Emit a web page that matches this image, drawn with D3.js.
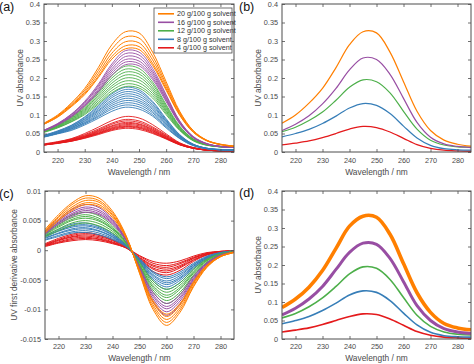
<!DOCTYPE html>
<html>
<head>
<meta charset="utf-8">
<script src="https://cdn.jsdelivr.net/npm/d3@7"></script>
<style>
  html, body { margin: 0; padding: 0; background: #fff; }
  svg { display: block; }
  text { font-family: "Liberation Sans", Arial, sans-serif; }
</style>
</head>
<body>
<svg id="chart" width="474" height="364"></svg>
<script>
// ---------------- data ----------------
const wavelengths = [215, 220, 225, 230, 235, 240, 245, 250, 255, 260, 265, 270, 275, 280, 285];
const xTicks = [220, 230, 240, 250, 260, 270, 280];
const absTicks = [0, 0.05, 0.1, 0.15, 0.2, 0.25, 0.3, 0.35, 0.4];
const absTickLabels = ["0", "0.05", "0.1", "0.15", "0.2", "0.25", "0.3", "0.35", "0.4"];
const derivTicks = [-0.015, -0.01, -0.005, 0, 0.005, 0.01];
const derivTickLabels = ["-0.015", "-0.01", "-0.005", "0", "0.005", "0.01"];

const groupNames = ["20 g/100 g solvent", "16 g/100 g solvent", "12 g/100 g solvent", "8 g/100 g solvent", "4 g/100 g solvent"];
const groupColors = ["#FF7F00", "#984EA3", "#4DAF4A", "#377EB8", "#E41A1C"];

// (a) all replicate spectra
const aOrange = [
  [.078, .100, .132, .172, .228, .290, .325, .322, .270, .190, .110, .058, .032, .021, .016],
  [.077, .098, .129, .167, .220, .278, .311, .308, .259, .183, .107, .057, .031, .021, .016],
  [.076, .097, .126, .162, .212, .267, .298, .295, .249, .177, .104, .055, .031, .020, .016],
  [.075, .095, .124, .158, .205, .258, .287, .285, .240, .171, .101, .054, .031, .020, .015],
  [.075, .094, .122, .155, .201, .251, .279, .277, .234, .167, .099, .053, .030, .020, .015]
];
const aPurple = [
  [.059, .077, .102, .137, .183, .238, .274, .270, .226, .155, .084, .042, .023, .015, .012],
  [.059, .076, .101, .134, .179, .232, .266, .262, .219, .151, .083, .041, .022, .015, .012],
  [.058, .075, .099, .132, .175, .225, .258, .254, .213, .147, .081, .040, .022, .015, .012],
  [.058, .075, .097, .128, .170, .219, .250, .246, .207, .143, .079, .040, .022, .015, .012],
  [.057, .074, .096, .126, .166, .213, .243, .239, .201, .140, .078, .039, .022, .015, .012],
  [.057, .073, .094, .124, .162, .207, .236, .233, .196, .136, .076, .038, .021, .015, .012]
];
const aGreen = [
  [.058, .072, .094, .122, .163, .207, .232, .226, .189, .128, .070, .035, .020, .015, .014],
  [.057, .071, .092, .119, .158, .200, .224, .218, .183, .124, .068, .035, .020, .015, .014],
  [.057, .070, .090, .116, .153, .193, .216, .211, .176, .120, .067, .034, .020, .014, .013],
  [.056, .069, .088, .113, .148, .186, .208, .203, .170, .116, .065, .033, .020, .014, .013],
  [.055, .068, .086, .110, .143, .179, .200, .195, .164, .112, .063, .032, .019, .014, .013],
  [.055, .067, .084, .107, .138, .173, .192, .187, .158, .109, .061, .032, .019, .014, .013],
  [.054, .066, .082, .104, .133, .166, .184, .179, .152, .105, .060, .031, .019, .014, .013],
  [.053, .065, .081, .101, .129, .160, .177, .173, .146, .101, .058, .030, .018, .014, .013]
];
const aBlue = [
  [.045, .057, .072, .095, .125, .157, .175, .168, .137, .090, .047, .021, .010, .007, .006],
  [.045, .056, .071, .093, .121, .152, .169, .163, .133, .087, .046, .021, .010, .007, .005],
  [.044, .055, .069, .090, .117, .147, .163, .157, .128, .084, .044, .020, .010, .006, .005],
  [.043, .054, .068, .088, .113, .141, .157, .151, .124, .082, .043, .020, .010, .006, .005],
  [.043, .053, .066, .085, .110, .136, .151, .145, .119, .079, .042, .020, .010, .006, .005],
  [.042, .052, .065, .083, .106, .131, .145, .139, .115, .076, .041, .019, .009, .006, .005],
  [.042, .051, .063, .080, .102, .126, .139, .134, .110, .074, .040, .019, .009, .006, .005],
  [.041, .050, .062, .078, .098, .121, .133, .128, .106, .071, .038, .018, .009, .006, .005],
  [.041, .050, .060, .076, .095, .116, .127, .122, .101, .068, .037, .018, .009, .006, .005],
  [.040, .049, .058, .073, .091, .110, .121, .116, .097, .065, .036, .017, .009, .006, .005]
];
const aRed = [
  [.022, .028, .036, .050, .067, .085, .096, .092, .074, .049, .025, .012, .006, .003, .002],
  [.021, .027, .035, .047, .062, .078, .088, .084, .068, .046, .024, .012, .006, .003, .002],
  [.020, .026, .034, .045, .059, .075, .084, .080, .065, .044, .023, .011, .005, .003, .002],
  [.020, .026, .033, .043, .057, .071, .080, .076, .062, .042, .022, .011, .005, .003, .002],
  [.020, .025, .032, .042, .055, .069, .077, .074, .060, .041, .021, .011, .005, .003, .002],
  [.019, .025, .031, .041, .053, .066, .074, .071, .058, .039, .021, .010, .005, .003, .002],
  [.019, .024, .030, .040, .051, .064, .071, .068, .056, .038, .020, .010, .005, .003, .002],
  [.019, .024, .030, .039, .050, .062, .069, .066, .054, .037, .020, .010, .005, .003, .002],
  [.019, .024, .029, .038, .049, .060, .067, .064, .052, .036, .020, .010, .005, .003, .002],
  [.019, .023, .029, .037, .047, .058, .064, .061, .050, .035, .019, .010, .005, .003, .002]
];

// (b) mean spectra
const bOrange = [.078, .100, .132, .172, .228, .290, .325, .322, .270, .190, .110, .058, .032, .021, .016];
const bPurple = [.058, .075, .098, .130, .172, .222, .254, .250, .210, .145, .080, .040, .022, .015, .012];
const bGreen  = [.055, .067, .085, .108, .140, .175, .195, .190, .160, .110, .062, .032, .019, .014, .013];
const bBlue   = [.041, .050, .061, .077, .097, .119, .131, .126, .104, .070, .038, .018, .009, .006, .005];
const bRed    = [.019, .024, .030, .039, .050, .062, .069, .066, .054, .037, .020, .010, .005, .003, .002];

// (c) first-derivative spectra
const cOrange = [
  [.0035, .0060, .0080, .0092, .0088, .0066, .0025, -.0039, -.0100, -.0127, -.0105, -.0062, -.0029, -.0011, -.0004],
  [.0033, .0057, .0077, .0088, .0084, .0063, .0024, -.0038, -.0096, -.0122, -.0101, -.0060, -.0028, -.0011, -.0004],
  [.0032, .0055, .0073, .0084, .0081, .0060, .0023, -.0036, -.0092, -.0117, -.0097, -.0057, -.0027, -.0011, -.0004],
  [.0030, .0052, .0070, .0080, .0077, .0058, .0022, -.0035, -.0088, -.0112, -.0093, -.0055, -.0026, -.0010, -.0003],
  [.0029, .0050, .0067, .0077, .0074, .0055, .0021, -.0033, -.0085, -.0108, -.0090, -.0053, -.0025, -.0010, -.0003]
];
const cPurple = [
  [.0032, .0052, .0069, .0077, .0072, .0052, .0019, -.0034, -.0087, -.0110, -.0091, -.0054, -.0025, -.0010, -.0003],
  [.0031, .0050, .0065, .0073, .0068, .0050, .0018, -.0032, -.0082, -.0104, -.0086, -.0051, -.0024, -.0009, -.0003],
  [.0029, .0048, .0062, .0070, .0065, .0048, .0018, -.0031, -.0078, -.0099, -.0082, -.0049, -.0023, -.0009, -.0003],
  [.0028, .0046, .0060, .0067, .0062, .0046, .0017, -.0029, -.0075, -.0095, -.0079, -.0047, -.0022, -.0009, -.0003],
  [.0027, .0044, .0057, .0064, .0060, .0044, .0016, -.0028, -.0071, -.0090, -.0075, -.0044, -.0021, -.0008, -.0003]
];
const cGreen = [
  [.0031, .0046, .0059, .0064, .0058, .0041, .0014, -.0028, -.0071, -.0090, -.0075, -.0044, -.0021, -.0008, -.0003],
  [.0029, .0043, .0055, .0060, .0054, .0038, .0013, -.0026, -.0067, -.0085, -.0071, -.0042, -.0020, -.0008, -.0003],
  [.0027, .0041, .0052, .0057, .0051, .0036, .0013, -.0025, -.0063, -.0080, -.0066, -.0039, -.0018, -.0007, -.0002],
  [.0026, .0039, .0050, .0054, .0049, .0035, .0012, -.0024, -.0060, -.0076, -.0063, -.0037, -.0017, -.0007, -.0002],
  [.0024, .0036, .0046, .0050, .0045, .0032, .0011, -.0022, -.0056, -.0071, -.0059, -.0035, -.0016, -.0006, -.0002],
  [.0022, .0033, .0042, .0046, .0041, .0029, .0010, -.0020, -.0052, -.0066, -.0055, -.0032, -.0015, -.0006, -.0002]
];
const cBlue = [
  [.0025, .0035, .0044, .0046, .0040, .0028, .0009, -.0020, -.0052, -.0066, -.0055, -.0032, -.0015, -.0006, -.0002],
  [.0024, .0033, .0041, .0043, .0038, .0026, .0009, -.0019, -.0049, -.0062, -.0051, -.0030, -.0014, -.0006, -.0002],
  [.0023, .0032, .0039, .0041, .0036, .0025, .0008, -.0018, -.0046, -.0058, -.0048, -.0028, -.0013, -.0005, -.0002],
  [.0021, .0029, .0036, .0038, .0033, .0023, .0008, -.0017, -.0043, -.0055, -.0046, -.0027, -.0013, -.0005, -.0002],
  [.0020, .0028, .0034, .0036, .0032, .0022, .0007, -.0016, -.0041, -.0052, -.0043, -.0025, -.0012, -.0005, -.0002],
  [.0018, .0025, .0031, .0033, .0029, .0020, .0007, -.0015, -.0038, -.0048, -.0040, -.0024, -.0011, -.0004, -.0001],
  [.0017, .0023, .0029, .0030, .0026, .0018, .0006, -.0014, -.0036, -.0045, -.0037, -.0022, -.0010, -.0004, -.0001]
];
const cRed = [
  [.0011, .0020, .0027, .0030, .0026, .0018, .0006, -.0017, -.0036, -.0042, -.0034, -.0019, -.0008, -.0003, -.0001],
  [.0010, .0018, .0025, .0028, .0025, .0017, .0006, -.0015, -.0032, -.0038, -.0030, -.0017, -.0008, -.0003, -.0001],
  [.0009, .0017, .0023, .0026, .0023, .0016, .0005, -.0014, -.0030, -.0035, -.0028, -.0016, -.0007, -.0003, -.0001],
  [.0008, .0016, .0022, .0024, .0021, .0014, .0005, -.0013, -.0027, -.0032, -.0026, -.0014, -.0006, -.0003, -.0001],
  [.0008, .0014, .0020, .0022, .0019, .0013, .0004, -.0012, -.0025, -.0029, -.0023, -.0013, -.0006, -.0002, -.0001],
  [.0007, .0013, .0018, .0020, .0018, .0012, .0004, -.0010, -.0022, -.0026, -.0021, -.0012, -.0005, -.0002, -.0001],
  [.0006, .0012, .0016, .0018, .0016, .0011, .0004, -.0009, -.0019, -.0022, -.0018, -.0010, -.0004, -.0002, -.0001]
];

// (d) predicted / averaged spectra
const dOrange = [.085, .108, .140, .185, .245, .305, .332, .329, .283, .204, .125, .072, .042, .030, .025];
const dPurple = [.065, .083, .108, .142, .188, .234, .259, .256, .218, .155, .090, .050, .028, .019, .015];
const dGreen  = [.057, .069, .087, .111, .142, .176, .195, .191, .161, .112, .064, .034, .019, .013, .011];
const dBlue   = [.041, .050, .061, .077, .097, .119, .130, .126, .104, .070, .038, .018, .009, .006, .005];
const dRed    = [.019, .024, .030, .039, .050, .061, .068, .066, .054, .037, .020, .010, .005, .003, .002];

// ---------------- drawing ----------------
const svg = d3.select("#chart");
const FONT = '"Liberation Sans", Arial, sans-serif';
const axisColor = "#4d4d4d";
const textColor = "#4a4a4a";

function panel(opts) {
  const {x0, x1, y0, y1, yDomain, yTicks, yLabels, yTitle, yTitleX, xTitleDy, xPad, groups, widths, label, labelX, labelY, id} = opts;
  const x = d3.scaleLinear().domain([215, 285]).range([x0, x1]);
  const y = d3.scaleLinear().domain(yDomain).range([y1, y0]);
  const g = svg.append("g");

  g.append("clipPath").attr("id", id).append("rect")
    .attr("x", x0).attr("y", y0).attr("width", x1 - x0).attr("height", y1 - y0);

  const line = d3.line()
    .x((d, i) => x(wavelengths[i]))
    .y(d => y(d))
    .curve(d3.curveCatmullRom.alpha(0.5));

  const lg = g.append("g").attr("clip-path", `url(#${id})`);
  groups.forEach((grp, gi) => {
    lg.selectAll(null).data(grp.series).enter().append("path")
      .attr("d", line)
      .attr("fill", "none")
      .attr("stroke", grp.color)
      .attr("stroke-width", widths[gi])
      .attr("stroke-linejoin", "round");
  });

  // axes with inward ticks
  const styleAxis = sel => {
    sel.selectAll(".domain").remove();
    sel.selectAll(".tick line").attr("stroke", axisColor).attr("stroke-width", 0.8);
    sel.selectAll("text").attr("fill", textColor).style("font-family", FONT).style("font-size", "7.3px");
  };
  g.append("g").attr("transform", `translate(0,${y1})`)
    .call(d3.axisBottom(x).tickValues(xTicks).tickSizeInner(-3).tickSizeOuter(0).tickPadding(xPad).tickFormat(d3.format("d")))
    .call(styleAxis);
  g.append("g").attr("transform", `translate(0,${y0})`)
    .call(d3.axisTop(x).tickValues(xTicks).tickSizeInner(-3).tickSizeOuter(0).tickFormat(""))
    .call(styleAxis);
  g.append("g").attr("transform", `translate(${x0},0)`)
    .call(d3.axisLeft(y).tickValues(yTicks).tickSizeInner(-3).tickSizeOuter(0).tickPadding(4)
      .tickFormat((d, i) => yLabels[i]))
    .call(styleAxis);
  g.append("g").attr("transform", `translate(${x1},0)`)
    .call(d3.axisRight(y).tickValues(yTicks).tickSizeInner(-3).tickSizeOuter(0).tickFormat(""))
    .call(styleAxis);

  g.append("rect").attr("x", x0).attr("y", y0).attr("width", x1 - x0).attr("height", y1 - y0)
    .attr("fill", "none").attr("stroke", axisColor).attr("stroke-width", 1);

  g.append("text").attr("x", (x0 + x1) / 2).attr("y", y1 + xTitleDy)
    .attr("text-anchor", "middle").attr("fill", textColor)
    .style("font-size", "8.4px").text("Wavelength / nm");

  g.append("text")
    .attr("transform", `translate(${yTitleX},${(y0 + y1) / 2}) rotate(-90)`)
    .attr("text-anchor", "middle").attr("fill", textColor)
    .style("font-size", "8.4px").text(yTitle);

  g.append("text").attr("x", labelX).attr("y", labelY)
    .attr("fill", "#111").style("font-size", "12.5px").text(label);

  return {x, y, g};
}

const A = panel({
  id: "clipA", x0: 44, x1: 234, y0: 4, y1: 152, xTitleDy: 23, xPad: 6,
  yDomain: [0, 0.4], yTicks: absTicks, yLabels: absTickLabels,
  yTitle: "UV absorbance", yTitleX: 23,
  groups: [
    {color: groupColors[4], series: aRed},
    {color: groupColors[3], series: aBlue},
    {color: groupColors[2], series: aGreen},
    {color: groupColors[1], series: aPurple},
    {color: groupColors[0], series: aOrange}
  ],
  widths: [0.9, 0.9, 0.9, 0.9, 1.0],
  label: "(a)", labelX: -1, labelY: 11
});

const B = panel({
  id: "clipB", x0: 282, x1: 471, y0: 4, y1: 152, xTitleDy: 23, xPad: 6,
  yDomain: [0, 0.4], yTicks: absTicks, yLabels: absTickLabels,
  yTitle: "UV absorbance", yTitleX: 261,
  groups: [
    {color: groupColors[4], series: [bRed]},
    {color: groupColors[3], series: [bBlue]},
    {color: groupColors[2], series: [bGreen]},
    {color: groupColors[1], series: [bPurple]},
    {color: groupColors[0], series: [bOrange]}
  ],
  widths: [1.3, 1.2, 1.2, 1.2, 1.2],
  label: "(b)", labelX: 239, labelY: 11
});

const C = panel({
  id: "clipC", x0: 45, x1: 234, y0: 191, y1: 339, xTitleDy: 22, xPad: 5,
  yDomain: [-0.015, 0.01], yTicks: derivTicks, yLabels: derivTickLabels,
  yTitle: "UV first derivative absorbance", yTitleX: 17,
  groups: [
    {color: groupColors[4], series: cRed},
    {color: groupColors[3], series: cBlue},
    {color: groupColors[2], series: cGreen},
    {color: groupColors[1], series: cPurple},
    {color: groupColors[0], series: cOrange}
  ],
  widths: [1.0, 1.0, 1.0, 1.0, 1.0],
  label: "(c)", labelX: -1, labelY: 198
});

const D = panel({
  id: "clipD", x0: 282, x1: 471, y0: 191, y1: 339, xTitleDy: 22, xPad: 5,
  yDomain: [0, 0.4], yTicks: absTicks, yLabels: absTickLabels,
  yTitle: "UV absorbance", yTitleX: 261,
  groups: [
    {color: groupColors[4], series: [dRed]},
    {color: groupColors[3], series: [dBlue]},
    {color: groupColors[2], series: [dGreen]},
    {color: groupColors[1], series: [dPurple]},
    {color: groupColors[0], series: [dOrange]}
  ],
  widths: [1.6, 1.6, 1.6, 3.0, 3.6],
  label: "(d)", labelX: 239, labelY: 197
});

// legend in (a)
const leg = A.g.append("g");
leg.append("rect").attr("x", 154).attr("y", 8).attr("width", 78).attr("height", 45)
  .attr("fill", "#fff").attr("stroke", axisColor).attr("stroke-width", 0.8);
groupNames.forEach((name, i) => {
  const yy = 13.8 + i * 8.5;
  leg.append("line").attr("x1", 158).attr("x2", 174).attr("y1", yy).attr("y2", yy)
    .attr("stroke", groupColors[i]).attr("stroke-width", 1.6);
  leg.append("text").attr("x", 177).attr("y", yy + 2.6)
    .attr("fill", "#333").style("font-size", "7.2px").text(name);
});
</script>
</body>
</html>
